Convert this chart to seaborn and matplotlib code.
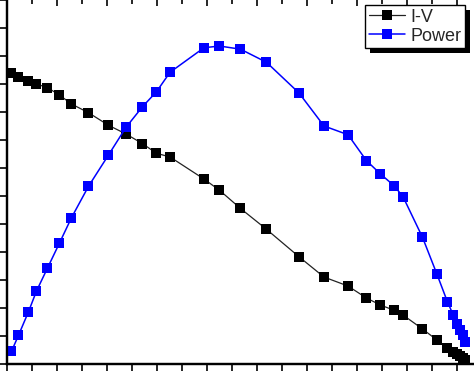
import numpy as np
import pandas as pd
import matplotlib
matplotlib.use("Agg")
import matplotlib.pyplot as plt
import matplotlib.patches as mpatches
import seaborn as sns

# Data (voltage in V, current and power in plot units)
voltage = [0.009, 0.023, 0.043, 0.059, 0.081, 0.105, 0.129, 0.163, 0.203, 0.238,
           0.271, 0.299, 0.326, 0.394, 0.425, 0.467, 0.519, 0.584, 0.634, 0.682,
           0.719, 0.747, 0.774, 0.792, 0.831, 0.860, 0.881, 0.893, 0.901, 0.907,
           0.912, 0.916]
current = [20.76, 20.48, 20.24, 20.00, 19.74, 19.21, 18.57, 17.95, 17.05, 16.43,
           15.74, 15.05, 14.79, 13.21, 12.41, 11.11, 9.62, 7.66, 6.21, 5.57,
           4.71, 4.21, 3.84, 3.50, 2.50, 1.71, 1.14, 0.87, 0.70, 0.54,
           0.41, 0.32]
power = [0.209, 0.473, 0.862, 1.203, 1.582, 1.995, 2.412, 2.929, 3.445, 3.901,
         4.241, 4.488, 4.808, 5.213, 5.241, 5.189, 4.973, 4.467, 3.923, 3.779,
         3.351, 3.132, 2.939, 2.758, 2.088, 1.478, 1.022, 0.800, 0.659, 0.560,
         0.470, 0.363]
labels = ["I-V", "Power"]

df = pd.DataFrame({"V": voltage, "I": current, "P": power})

sns.set_style("ticks")
plt.rcParams["font.family"] = ["Liberation Sans", "DejaVu Sans"]

W, H = 474, 371
fig = plt.figure(figsize=(W / 100, H / 100), dpi=100)
# axes frame: left spine at x=7px, bottom at y=364px, top just above the image
ax = fig.add_axes([7 / W, 7 / H, 475 / W, 366 / H])
ax2 = ax.twinx()

sns.lineplot(data=df, x="V", y="I", ax=ax, color="#222222", linewidth=0.9,
             marker="s", markersize=6.8, markeredgewidth=0,
             markerfacecolor="black", legend=False)
sns.lineplot(data=df, x="V", y="P", ax=ax2, color="#0000FF", linewidth=1.1,
             marker="s", markersize=6.8, markeredgewidth=0, legend=False)

ax.set_xlim(0, 0.95)
ax.set_ylim(0, 366 / 14)
ax2.set_ylim(0, 366 / 60.67)

ax.set_xticks(np.arange(0, 0.951, 0.1))
ax.set_xticks(np.arange(0.05, 0.951, 0.1), minor=True)
ax.set_yticks(np.arange(0, 26.1, 2))
ax.set_xlabel("")
ax.set_ylabel("")
ax2.set_ylabel("")
ax.set_xticklabels([])
ax.set_yticklabels([])
ax2.set_yticklabels([])

for a in (ax, ax2):
    for s in a.spines.values():
        s.set_linewidth(1.6)
        s.set_color("black")

ax.tick_params(axis="x", which="both", direction="out", length=6, width=1.4,
               top=True, bottom=True)
ax.tick_params(axis="y", which="major", direction="out", length=6, width=1.4)
ax.xaxis.set_tick_params(which="both", labeltop=False)
# top ticks point inward
for t in ax.xaxis.get_major_ticks():
    t.tick2line.set_marker(3)
    t.tick2line.set_markersize(6)
for t in ax.xaxis.get_minor_ticks():
    t.tick2line.set_marker(3)
    t.tick2line.set_markersize(4)
ax2.tick_params(axis="y", length=0)

handles = [ax.lines[0], ax2.lines[0]]
leg = ax2.legend(handles, labels, loc="upper right",
                 bbox_to_anchor=(465 / W, 1 - 5 / H),
                 bbox_transform=fig.transFigure, borderaxespad=0,
                 fontsize=13, fancybox=False, frameon=True,
                 edgecolor="black", framealpha=1, borderpad=0.2,
                 labelspacing=0.12, handlelength=2.0, handletextpad=0.3)
leg.get_frame().set_linewidth(1.0)

# solid black drop shadow, offset right and down like the original
fig.canvas.draw()
bb = leg.get_window_extent().transformed(fig.transFigure.inverted())
shadow = mpatches.Rectangle((bb.x0 + 5 / W, bb.y0 - 5 / H), bb.width, bb.height,
                            transform=fig.transFigure, facecolor="black",
                            edgecolor="none", zorder=leg.get_zorder() - 0.5)
ax2.add_artist(shadow)
shadow.set_clip_on(False)

fig.savefig("out.png", dpi=100)
